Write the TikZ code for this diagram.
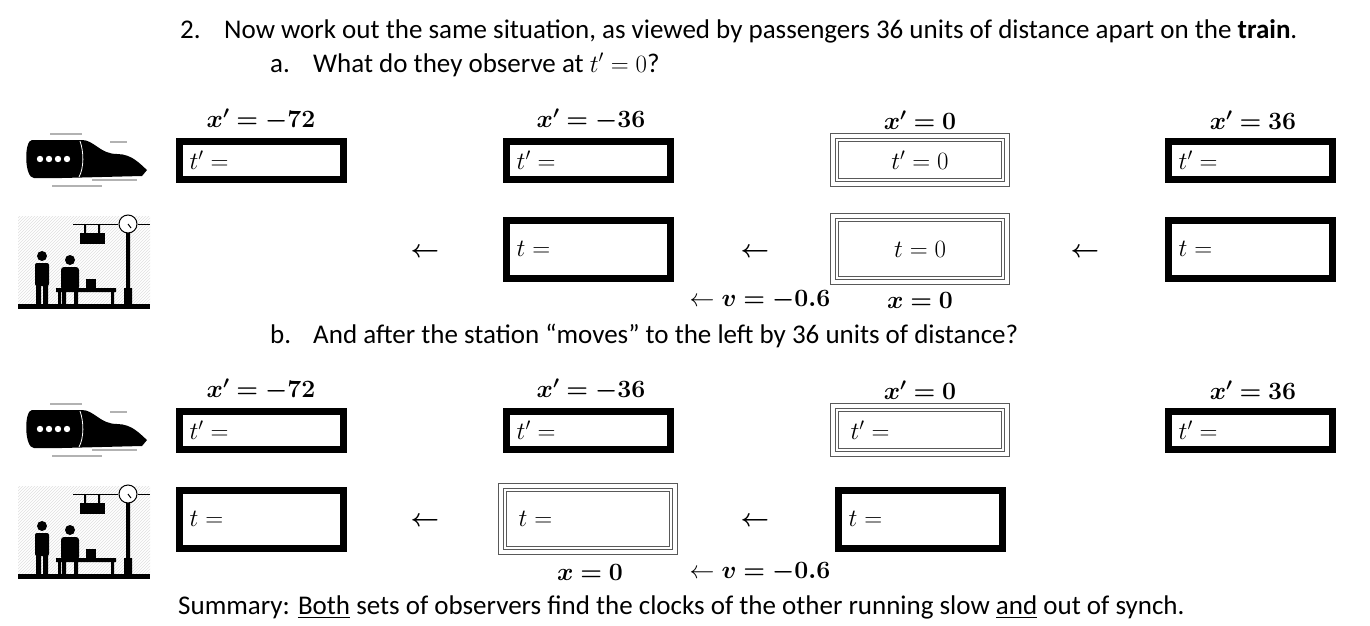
\documentclass[tikz,border=0pt]{standalone}
\usepackage{amsmath,bm}
\usepackage{fontspec}
\setmainfont{Carlito}
\usetikzlibrary{patterns}
\begin{document}
\begin{tikzpicture}[x=1pt,y=-1pt,
  every node/.style={font=\fontsize{24}{28}\selectfont, inner sep=0pt},
  thickbox/.style={draw=black, line width=7pt, minimum width=164pt, minimum height=38pt},
  tribox/.style={draw=gray!70!black, line width=1.1pt, double=white, double distance=2.2pt, minimum width=166pt, minimum height=40pt},
  lbl/.style={font=\fontsize{24}{28}\selectfont},
  arr/.style={font=\fontsize{30}{34}\selectfont},
  txt/.style={anchor=base west, font=\fontsize{27}{31}\selectfont}]
\useasboundingbox (0,0) rectangle (1370,626);
% header
\node[txt] (n2) at (180,38) {2.};
\node[txt] (l1) at (224,38) {Now work out the same situation, as viewed by passengers 36 units of distance apart on the \textbf{train}.};
\node[txt] (na) at (270,72) {a.};
\node[txt] (la) at (313,72) {What do they observe at $t'=0$?};
\node[txt] (nb) at (270,343) {b.};
\node[txt] (lb) at (313,343) {And after the station “moves” to the left by 36 units of distance?};
\node[txt] (sum) at (178,614) {Summary: \underline{Both} sets of observers find the clocks of the other running slow \underline{and} out of synch.};
% macros
\newcommand{\trainicon}[2]{%
 \begin{scope}[shift={(#1,#2)}]
  \fill[black] (10,0) -- (60,0) .. controls (72,0) and (78,14) .. (95,14) .. controls (110,14) and (118,24) .. (125,30) -- (120,36) -- (40,38) -- (12,38) .. controls (2,38) and (2,0) .. (10,0) -- cycle;
  \foreach \i in {0,1,2,3} \fill[white] (18+\i*9,19) circle (3.2);
  \draw[white, line width=0.8pt] (58,1) .. controls (62,12) and (62,28) .. (57,37);
  \draw[gray!60, line width=1.5pt] (28,-6) -- (60,-6) (88,2) -- (105,2) (30,46) -- (80,46) (70,40) -- (115,40);
 \end{scope}}
\newcommand{\stationicon}[2]{%
 \begin{scope}[shift={(#1,#2)}]
  \fill[pattern=north east lines, pattern color=gray!25] (0,0) rectangle (132,88);
  \fill[black] (0,88) rectangle (132,93);
  \draw[line width=1pt] (55,8) -- (100,8) (120,8) -- (132,8);
  \fill[black] (66,8) rectangle (68,17) (80,8) rectangle (82,17);
  \fill[black] (62,17) rectangle (87,28);
  \draw[line width=1pt, fill=white] (110,8) circle (9);
  \draw[line width=1pt] (110,8) -- (113,12);
  \fill[black] (108,17) rectangle (112,72) (106,72) rectangle (114,88);
  % standing person
  \fill[black] (24,40) circle (5);
  \fill[rounded corners=2pt,black] (17,47) rectangle (31,70);
  \fill[black] (18,66) rectangle (23,88) (25,66) rectangle (30,88);
  % seated person
  \fill[black] (52,44) circle (5);
  \fill[rounded corners=3pt,black] (43,51) rectangle (61,74);
  \fill[black] (44,72) rectangle (48,88) (56,72) rectangle (60,88);
  % bench and bag
  \fill[black] (38,72) rectangle (98,76) (40,76) rectangle (43,88) (93,76) rectangle (96,88);
  \fill[black] (68,63) rectangle (78,72);
 \end{scope}}
\trainicon{22}{140}
\stationicon{18}{216}
\trainicon{22}{410}
\stationicon{18}{486}
% row 1
\node[thickbox] (a1) at (261,160) {};
\node[thickbox] (a2) at (588,160) {};
\node[tribox] (a3) at (920,160) {};
\draw[gray!70!black, line width=1.1pt] ([shift={(-6,-6)}]a3.north west) rectangle ([shift={(6,6)}]a3.south east);
\node[thickbox] (a4) at (1250,160) {};
\node[lbl] (ax1) at (261,120) {$\bm{x'=-72}$};
\node[lbl] (ax2) at (591,120) {$\bm{x'=-36}$};
\node[lbl] (ax3) at (920,120) {$\bm{x'=0}$};
\node[lbl] (ax4) at (1253,120) {$\bm{x'=36}$};
\node[anchor=west] (at1) at ([xshift=14pt]a1.west) {$t'=$};
\node[anchor=west] (at2) at ([xshift=14pt]a2.west) {$t'=$};
\node (at3) at (a3.center) {$t'=0$};
\node[anchor=west] (at4) at ([xshift=14pt]a4.west) {$t'=$};
% row 2
\node[thickbox, minimum height=58pt] (b2) at (588,249) {};
\node[tribox, minimum height=58pt] (b3) at (920,249) {};
\draw[gray!70!black, line width=1.1pt] ([shift={(-6,-6)}]b3.north west) rectangle ([shift={(6,6)}]b3.south east);
\node[thickbox, minimum height=58pt] (b4) at (1250,249) {};
\node[anchor=west] (bt2) at ([xshift=14pt]b2.west) {$t=$};
\node (bt3) at (b3.center) {$t=0$};
\node[anchor=west] (bt4) at ([xshift=14pt]b4.west) {$t=$};
\node[arr] (ar1) at (425,253) {$\bm{\leftarrow}$};
\node[arr] (ar2) at (755,253) {$\bm{\leftarrow}$};
\node[arr] (ar3) at (1085,253) {$\bm{\leftarrow}$};
\node[lbl] (bv) at (760,300) {$\leftarrow\bm{v=-0.6}$};
\node[lbl] (bx) at (920,300) {$\bm{x=0}$};
% row 3
\node[thickbox] (c1) at (261,430) {};
\node[thickbox] (c2) at (588,430) {};
\node[tribox] (c3) at (920,430) {};
\draw[gray!70!black, line width=1.1pt] ([shift={(-6,-6)}]c3.north west) rectangle ([shift={(6,6)}]c3.south east);
\node[thickbox] (c4) at (1250,430) {};
\node[lbl] (cx1) at (261,390) {$\bm{x'=-72}$};
\node[lbl] (cx2) at (591,390) {$\bm{x'=-36}$};
\node[lbl] (cx3) at (920,390) {$\bm{x'=0}$};
\node[lbl] (cx4) at (1253,390) {$\bm{x'=36}$};
\node[anchor=west] (ct1) at ([xshift=14pt]c1.west) {$t'=$};
\node[anchor=west] (ct2) at ([xshift=14pt]c2.west) {$t'=$};
\node[anchor=west] (ct3) at ([xshift=14pt]c3.west) {$t'=$};
\node[anchor=west] (ct4) at ([xshift=14pt]c4.west) {$t'=$};
% row 4
\node[thickbox, minimum height=58pt] (d1) at (261,519) {};
\node[tribox, minimum height=58pt] (d2) at (588,519) {};
\draw[gray!70!black, line width=1.1pt] ([shift={(-6,-6)}]d2.north west) rectangle ([shift={(6,6)}]d2.south east);
\node[thickbox, minimum height=58pt] (d3) at (920,519) {};
\node[anchor=west] (dt1) at ([xshift=14pt]d1.west) {$t=$};
\node[anchor=west] (dt2) at ([xshift=14pt]d2.west) {$t=$};
\node[anchor=west] (dt3) at ([xshift=14pt]d3.west) {$t=$};
\node[arr] (dr1) at (425,522) {$\bm{\leftarrow}$};
\node[arr] (dr2) at (755,522) {$\bm{\leftarrow}$};
\node[lbl] (dx) at (590,572) {$\bm{x=0}$};
\node[lbl] (dv) at (760,572) {$\leftarrow\bm{v=-0.6}$};
\end{tikzpicture}
\end{document}
